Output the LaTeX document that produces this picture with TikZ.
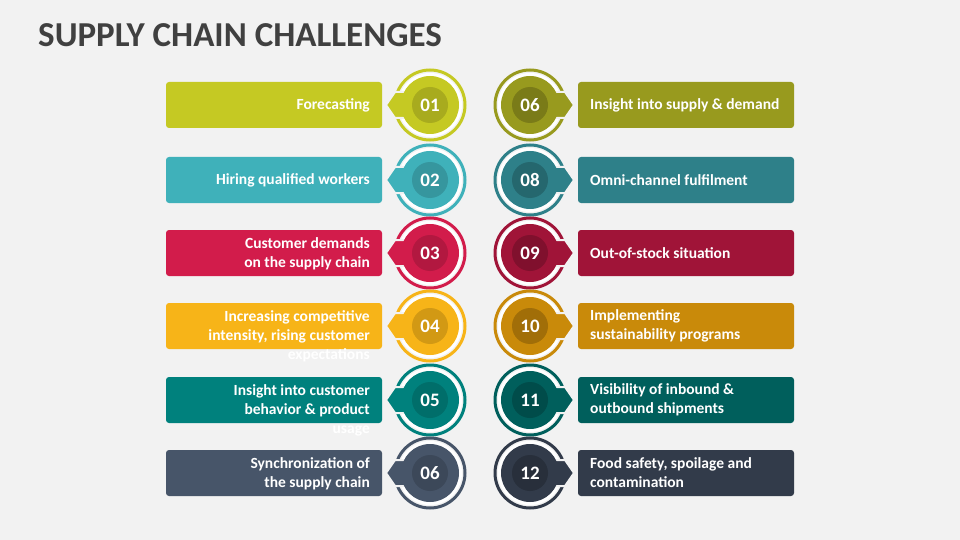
\documentclass[tikz,border=0pt]{standalone}
\usepackage{fontspec}
\setmainfont{Carlito}
\begin{document}
\begin{tikzpicture}[x=1pt,y=-1pt,
  box/.style={rounded corners=3pt,minimum width=216pt,minimum height=46pt,inner sep=0pt},
  lbl/.style={text=white,font=\bfseries\fontsize{15.5}{19}\selectfont,inner sep=0pt},
  num/.style={text=white,font=\bfseries\fontsize{19}{19}\selectfont}]
\fill[fill={rgb,255:red,242;green,242;blue,242}] (0,0) rectangle (960,540);
\useasboundingbox (0,0) rectangle (960,540);
\node[anchor=west,font=\bfseries\fontsize{35}{35}\selectfont,text={rgb,255:red,64;green,64;blue,64},inner sep=0pt] (title) at (38,35) {SUPPLY CHAIN CHALLENGES};
\definecolor{la}{RGB}{197,201,35}\definecolor{ra}{RGB}{152,154,30}
\definecolor{lb}{RGB}{63,177,186}\definecolor{rb}{RGB}{46,128,137}
\definecolor{lc}{RGB}{210,28,75}\definecolor{rc}{RGB}{160,20,56}
\definecolor{ld}{RGB}{247,180,24}\definecolor{rd}{RGB}{201,138,10}
\definecolor{le}{RGB}{0,129,125}\definecolor{re}{RGB}{0,95,92}
\definecolor{lf}{RGB}{71,85,105}\definecolor{rf}{RGB}{50,59,74}
\foreach \y/\c/\n/\o/\t [count=\i] in {105/la/01/-6.5/Forecasting,180/lb/02/-6.5/Hiring qualified workers,253/lc/03/-16/{Customer demands\\on the supply chain},326/ld/04/-16/{Increasing competitive\\intensity, rising customer\\expectations},400/le/05/-16/{Insight into customer\\behavior \& product\\usage},473/lf/06/-16/{Synchronization of\\the supply chain}}{
  \node[box,fill=\c] (lb\i) at (274,\y) {};
  \node[lbl,anchor=north east,align=right] (lt\i) at (370,\y+\o) {\t};
  \coordinate (lc\i) at (430,\y);
  \draw[\c,line width=3pt] (lc\i) circle (35);
  \fill[white] (lc\i) circle (32);
  \filldraw[fill=\c,draw={rgb,255:red,242;green,242;blue,242},line width=2pt] ([shift={(-44,0)}]lc\i) -- ([shift={(-35,-13)}]lc\i) -- ([shift={(-15,-13)}]lc\i) -- ([shift={(-15,13)}]lc\i) -- ([shift={(-35,13)}]lc\i) -- cycle;
  \fill[\c] (lc\i) circle (29);
  \fill[\c!85!black] (lc\i) circle (18);
  \node[num] (ln\i) at (lc\i) {\n};
}
\foreach \y/\c/\n [count=\i] in {105/ra/06,180/rb/08,253/rc/09,326/rd/10,400/re/11,473/rf/12}{
  \node[box,fill=\c] (rb\i) at (686,\y) {};
  \coordinate (rc\i) at (530,\y);
  \draw[\c,line width=3pt] (rc\i) circle (35);
  \fill[white] (rc\i) circle (32);
  \filldraw[fill=\c,draw={rgb,255:red,242;green,242;blue,242},line width=2pt] ([shift={(44,0)}]rc\i) -- ([shift={(35,-13)}]rc\i) -- ([shift={(15,-13)}]rc\i) -- ([shift={(15,13)}]rc\i) -- ([shift={(35,13)}]rc\i) -- cycle;
  \fill[\c] (rc\i) circle (29);
  \fill[\c!80!black] (rc\i) circle (18);
  \node[num] (rn\i) at (rc\i) {\n};
}
\foreach \y/\t [count=\i] in {105/Insight into supply \& demand,180/Omni-channel fulfilment,253/Out-of-stock situation,326/{Implementing\\sustainability programs},400/{Visibility of inbound \&\\outbound shipments},473/{Food safety, spoilage and\\contamination}}{
  \node[lbl,anchor=west,align=left] (rt\i) at (590,\y) {\t};
}
\end{tikzpicture}
\end{document}
